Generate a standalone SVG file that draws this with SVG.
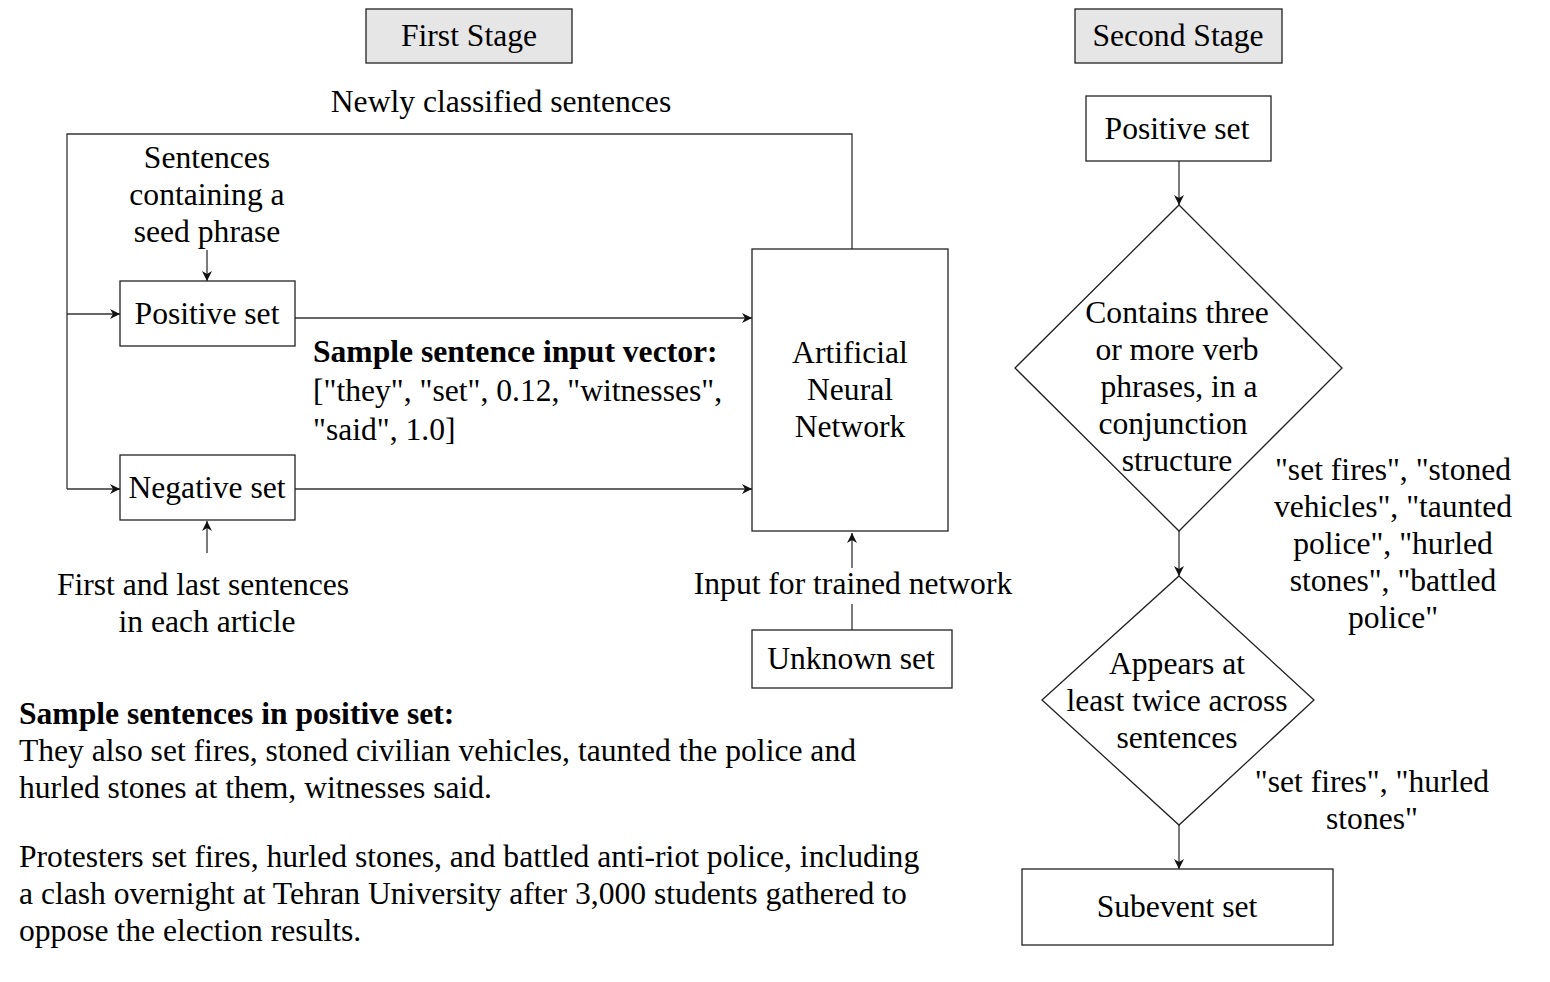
<svg xmlns="http://www.w3.org/2000/svg" width="1550" height="982" viewBox="0 0 1550 982">
<defs>
<marker id="ah" viewBox="0 0 10 10" refX="10" refY="5" markerWidth="10" markerHeight="10" markerUnits="userSpaceOnUse" orient="auto">
<path d="M0,0 L10,5 L0,10 L3,5 z" fill="#111"/>
</marker>
<style>
text{font-family:"Liberation Serif","Times New Roman",serif;font-size:31.6px;fill:#000}
.c{text-anchor:middle}
.b{font-weight:bold}
.box{fill:#fff;stroke:#222;stroke-width:1.3}
.stage{fill:#e6e6e6;stroke:#222;stroke-width:1.3}
.ln{fill:none;stroke:#333;stroke-width:1.3}
.ar{fill:none;stroke:#333;stroke-width:1.3;marker-end:url(#ah)}
</style>
</defs>
<rect width="1550" height="982" fill="#fff"/>
<g id="connectors">
<polyline class="ln" points="852,249 852,134 67,134 67,489"/>
<line class="ar" x1="67" y1="314" x2="120" y2="314"/>
<line class="ar" x1="67" y1="489" x2="120" y2="489"/>
<line class="ar" x1="207" y1="250" x2="207" y2="281"/>
<line class="ar" x1="207" y1="553" x2="207" y2="521"/>
<line class="ar" x1="295" y1="318" x2="752" y2="318"/>
<line class="ar" x1="295" y1="489" x2="752" y2="489"/>
<line class="ar" x1="852" y1="630" x2="852" y2="533"/>
<line class="ar" x1="1179" y1="161" x2="1179" y2="205"/>
<line class="ar" x1="1179" y1="531" x2="1179" y2="576"/>
<line class="ar" x1="1179" y1="825" x2="1179" y2="869"/>
</g>
<g id="first-stage"><rect class="stage" x="366" y="9" width="206" height="54"/><text class="c" x="469" y="46">First Stage</text></g>
<g id="second-stage"><rect class="stage" x="1075" y="9" width="207" height="54"/><text class="c" x="1178" y="46">Second Stage</text></g>
<g id="newly-label"><text class="c" x="501" y="112">Newly classified sentences</text></g>
<g id="seed-label"><text class="c" x="207" y="168">Sentences</text><text class="c" x="207" y="205">containing a</text><text class="c" x="207" y="242">seed phrase</text></g>
<g id="positive-set"><rect class="box" x="120" y="281" width="175" height="65"/><text class="c" x="207" y="324">Positive set</text></g>
<g id="negative-set"><rect class="box" x="120" y="455" width="175" height="65"/><text class="c" x="207" y="498">Negative set</text></g>
<g id="first-last-label"><text class="c" x="203" y="595">First and last sentences</text><text class="c" x="207" y="632">in each article</text></g>
<g id="vector-label"><text class="b" x="313" y="362">Sample sentence input vector:</text><text x="313" y="401">["they", "set", 0.12, "witnesses",</text><text x="313" y="440">"said", 1.0]</text></g>
<g id="ann"><rect class="box" x="752" y="249" width="196" height="282"/><text class="c" x="850" y="363">Artificial</text><text class="c" x="850" y="400">Neural</text><text class="c" x="850" y="437">Network</text></g>
<g id="input-label"><rect x="694" y="568" width="318" height="36" fill="#fff"/><text class="c" x="853" y="594">Input for trained network</text></g>
<g id="unknown-set"><rect class="box" x="752" y="630" width="200" height="58"/><text class="c" x="851" y="669">Unknown set</text></g>
<g id="sample-sentences"><text class="b" x="19" y="724">Sample sentences in positive set:</text><text x="19" y="761">They also set fires, stoned civilian vehicles, taunted the police and</text><text x="19" y="798">hurled stones at them, witnesses said.</text><text x="19" y="867">Protesters set fires, hurled stones, and battled anti-riot police, including</text><text x="19" y="904">a clash overnight at Tehran University after 3,000 students gathered to</text><text x="19" y="941">oppose the election results.</text></g>
<g id="positive-set-2"><rect class="box" x="1086" y="96" width="185" height="65"/><text class="c" x="1177" y="139">Positive set</text></g>
<g id="diamond-1"><polygon class="box" points="1179,205 1342,368 1179,531 1015,368"/><text class="c" x="1177" y="323">Contains three</text><text class="c" x="1177" y="360">or more verb</text><text class="c" x="1179" y="397">phrases, in a</text><text class="c" x="1173" y="434">conjunction</text><text class="c" x="1177" y="471">structure</text></g>
<g id="label-1"><text class="c" x="1393" y="480">"set fires", "stoned</text><text class="c" x="1393" y="517">vehicles", "taunted</text><text class="c" x="1393" y="554">police", "hurled</text><text class="c" x="1393" y="591">stones", "battled</text><text class="c" x="1393" y="628">police"</text></g>
<g id="diamond-2"><polygon class="box" points="1179,576 1314,700 1179,825 1042,700"/><text class="c" x="1177" y="674">Appears at</text><text class="c" x="1177" y="711">least twice across</text><text class="c" x="1177" y="748">sentences</text></g>
<g id="label-2"><text class="c" x="1372" y="792">"set fires", "hurled</text><text class="c" x="1372" y="829">stones"</text></g>
<g id="subevent-set"><rect class="box" x="1022" y="869" width="311" height="76"/><text class="c" x="1177" y="917">Subevent set</text></g>
</svg>
